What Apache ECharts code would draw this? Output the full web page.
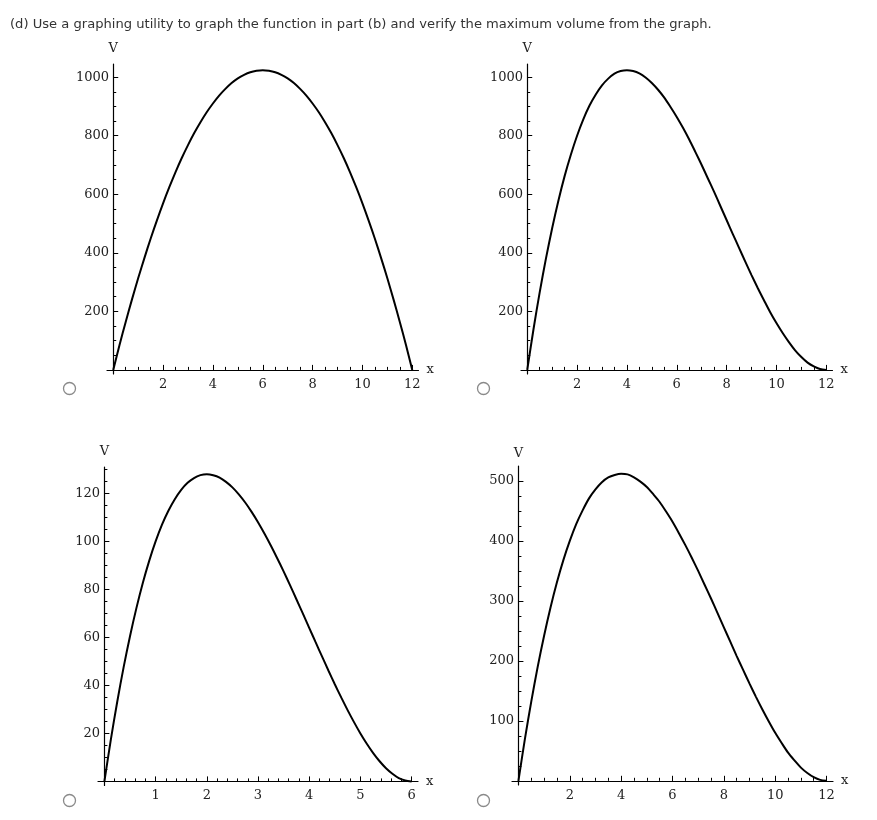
<!DOCTYPE html>
<html>
<head>
<meta charset="utf-8">
<title>V(x) graphs</title>
<script src="https://cdn.jsdelivr.net/npm/echarts@6/dist/echarts.min.js"></script>
<style>
  html, body { margin: 0; padding: 0; background: #fff; }
  #chart { width: 877px; height: 820px; }
</style>
</head>
<body>
<div id="chart"></div>
<script>
// question text
var questionText = "(d) Use a graphing utility to graph the function in part (b) and verify the maximum volume from the graph.";

var xWide = [0, 0.25, 0.5, 0.75, 1, 1.25, 1.5, 1.75, 2, 2.25, 2.5, 2.75, 3, 3.25, 3.5, 3.75, 4, 4.25, 4.5, 4.75, 5, 5.25, 5.5, 5.75, 6,
  6.25, 6.5, 6.75, 7, 7.25, 7.5, 7.75, 8, 8.25, 8.5, 8.75, 9, 9.25, 9.5, 9.75, 10, 10.25, 10.5, 10.75, 11, 11.25, 11.5, 11.75, 12];
var xNarrow = [0, 0.125, 0.25, 0.375, 0.5, 0.625, 0.75, 0.875, 1, 1.125, 1.25, 1.375, 1.5, 1.625, 1.75, 1.875, 2, 2.125, 2.25, 2.375, 2.5, 2.625, 2.75, 2.875, 3,
  3.125, 3.25, 3.375, 3.5, 3.625, 3.75, 3.875, 4, 4.125, 4.25, 4.375, 4.5, 4.625, 4.75, 4.875, 5, 5.125, 5.25, 5.375, 5.5, 5.625, 5.75, 5.875, 6];

// V values
var vTopLeft = [0, 84, 164, 240, 313, 382, 448, 510, 569, 624, 676, 724, 768, 809, 846, 880, 910, 937, 960, 980, 996, 1008, 1017, 1022, 1024,
  1022, 1017, 1008, 996, 980, 960, 937, 910, 880, 846, 809, 768, 724, 676, 624, 569, 510, 448, 382, 313, 240, 164, 84, 0];
var vTopRight = [0, 138, 265, 380, 484, 578, 662, 735, 800, 856, 903, 941, 972, 995, 1012, 1021, 1024, 1021, 1013, 999, 980, 957, 930, 898, 864,
  827, 787, 744, 700, 654, 608, 560, 512, 464, 417, 370, 324, 280, 238, 197, 160, 126, 95, 67, 44, 25, 12, 3, 0];
var vBottomLeft = [0, 17.3, 33.1, 47.5, 60.5, 72.2, 82.7, 91.9, 100, 107, 112.8, 117.6, 121.5, 124.4, 126.4, 127.6, 128, 127.6, 126.6, 124.8, 122.5, 119.6, 116.2, 112.3, 108,
  103.3, 98.3, 93, 87.5, 81.8, 75.9, 70, 64, 58, 52.1, 46.2, 40.5, 35, 29.7, 24.7, 20, 15.7, 11.8, 8.4, 5.5, 3.2, 1.4, 0.4, 0];
var vBottomRight = [0, 69, 132, 190, 242, 289, 331, 368, 400, 428, 451, 471, 486, 498, 506, 510, 512, 511, 506, 499, 490, 478, 465, 449, 432,
  413, 393, 372, 350, 327, 304, 280, 256, 232, 208, 185, 162, 140, 119, 99, 80, 63, 47, 34, 22, 13, 6, 1.5, 0];

// tick labels
var xLabelsWide = [2, 4, 6, 8, 10, 12];
var xLabelsNarrow = [1, 2, 3, 4, 5, 6];
var yLabelsTop = [200, 400, 600, 800, 1000];
var yLabelsBottomLeft = [20, 40, 60, 80, 100, 120];
var yLabelsBottomRight = [100, 200, 300, 400, 500];

var serif = "DejaVu Serif";
var ink = "#222";

// small tick positions
function steps(from, to, step) {
  var out = [];
  for (var v = from; v <= to + 1e-9; v += step) out.push(+v.toFixed(4));
  return out;
}

function pairs(xs, vs) {
  return xs.map(function (x, i) { return [x, vs[i]]; });
}

// plain numbers, no thousands separator
function plain(v) {
  return String(v);
}

var panels = [
  {
    grid: { left: 107, top: 64, width: 311.5, height: 310 },
    xMin: -0.25, xMax: 12.25, yMin: -14, yMax: 1045,
    xs: xWide, vs: vTopLeft,
    xLabels: xLabelsWide, xMinor: steps(0.5, 12, 0.5),
    yLabels: yLabelsTop, yMinor: steps(50, 1000, 50),
    vGap: 9
  },
  {
    grid: { left: 521, top: 64, width: 311.5, height: 310 },
    xMin: -0.25, xMax: 12.25, yMin: -14, yMax: 1045,
    xs: xWide, vs: vTopRight,
    xLabels: xLabelsWide, xMinor: steps(0.5, 12, 0.5),
    yLabels: yLabelsTop, yMinor: steps(50, 1000, 50),
    vGap: 9
  },
  {
    grid: { left: 98, top: 467, width: 320, height: 318.5 },
    xMin: -0.125, xMax: 6.125, yMin: -1.7, yMax: 131,
    xs: xNarrow, vs: vBottomLeft,
    xLabels: xLabelsNarrow, xMinor: steps(0.2, 6, 0.2),
    yLabels: yLabelsBottomLeft, yMinor: steps(5, 130, 5),
    vGap: 9
  },
  {
    grid: { left: 512, top: 466, width: 321, height: 319 },
    xMin: -0.25, xMax: 12.25, yMin: -7, yMax: 525,
    xs: xWide, vs: vBottomRight,
    xLabels: xLabelsWide, xMinor: steps(0.5, 12, 0.5),
    yLabels: yLabelsBottomRight, yMinor: steps(25, 500, 25),
    vGap: 6
  }
];

var grids = [], xAxes = [], yAxes = [], series = [];

panels.forEach(function (p, i) {
  grids.push(p.grid);
  var main = 2 * i;

  // x axis with labels and long ticks
  xAxes.push({
    gridIndex: i, type: "value", position: "bottom",
    min: p.xMin, max: p.xMax,
    name: "x", nameLocation: "end", nameGap: 8,
    nameTextStyle: { fontFamily: serif, fontSize: 13, color: ink },
    axisLine: { onZero: true, onZeroAxisIndex: main, lineStyle: { color: "#000", width: 1.2 } },
    axisTick: { inside: true, length: 5, customValues: p.xLabels, lineStyle: { color: "#000", width: 1 } },
    axisLabel: { customValues: p.xLabels, formatter: plain, margin: 4, fontFamily: serif, fontSize: 13, color: ink },
    splitLine: { show: false }
  });
  // x axis only for the short ticks
  xAxes.push({
    gridIndex: i, type: "value", position: "bottom",
    min: p.xMin, max: p.xMax,
    axisLine: { show: false, onZero: true, onZeroAxisIndex: main },
    axisTick: { inside: true, length: 3, customValues: p.xMinor, lineStyle: { color: "#000", width: 1 } },
    axisLabel: { show: false },
    splitLine: { show: false }
  });

  yAxes.push({
    gridIndex: i, type: "value", position: "left",
    min: p.yMin, max: p.yMax,
    name: "V", nameLocation: "end", nameGap: p.vGap,
    nameTextStyle: { fontFamily: serif, fontSize: 13, color: ink },
    axisLine: { show: true, onZero: true, onZeroAxisIndex: main, lineStyle: { color: "#000", width: 1.2 } },
    axisTick: { show: true, inside: true, length: 5, customValues: p.yLabels, lineStyle: { color: "#000", width: 1 } },
    axisLabel: { customValues: p.yLabels, formatter: plain, margin: -2, fontFamily: serif, fontSize: 13, color: ink },
    splitLine: { show: false }
  });
  yAxes.push({
    gridIndex: i, type: "value", position: "left",
    min: p.yMin, max: p.yMax,
    axisLine: { show: false, onZero: true, onZeroAxisIndex: main },
    axisTick: { show: true, inside: true, length: 3, customValues: p.yMinor, lineStyle: { color: "#000", width: 1 } },
    axisLabel: { show: false },
    splitLine: { show: false }
  });

  series.push({
    type: "line",
    xAxisIndex: main, yAxisIndex: main,
    data: pairs(p.xs, p.vs),
    smooth: 0.3,
    symbol: "none",
    lineStyle: { color: "#000", width: 2 }
  });
});

// answer choice circles
var radios = [[69.5, 388.5], [483.5, 388.5], [69.5, 800.5], [483.5, 800.5]].map(function (c) {
  return {
    type: "circle",
    shape: { cx: c[0], cy: c[1], r: 6 },
    style: { fill: "#fff", stroke: "#8a8a8a", lineWidth: 1.3 }
  };
});

var myChart = echarts.init(document.getElementById("chart"));
myChart.setOption({
  animation: false,
  backgroundColor: "#fff",
  title: {
    text: questionText,
    left: 10, top: 18, padding: 0,
    textStyle: { fontFamily: "DejaVu Sans", fontSize: 13.1, fontWeight: "normal", color: "#333" }
  },
  grid: grids,
  xAxis: xAxes,
  yAxis: yAxes,
  series: series,
  graphic: radios
});
</script>
</body>
</html>
